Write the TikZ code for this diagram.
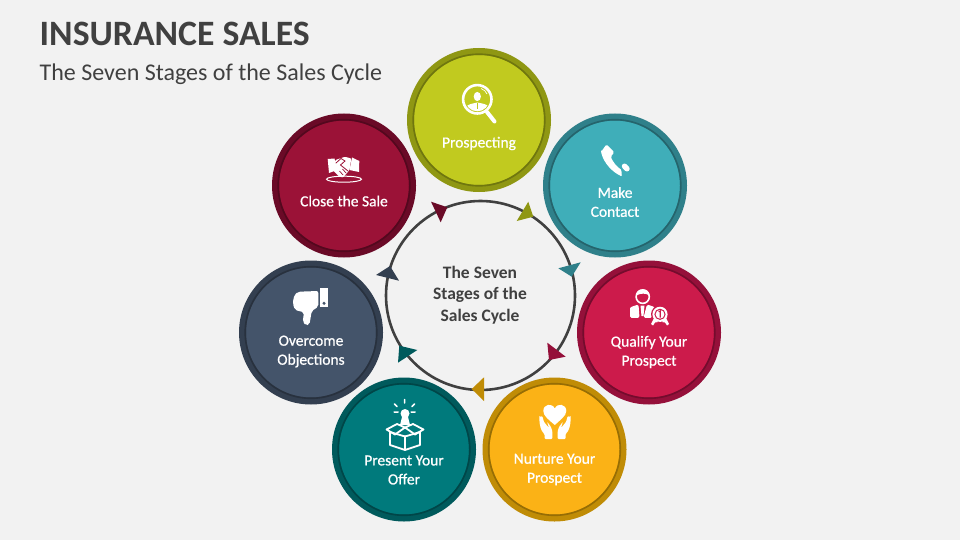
\documentclass[tikz,border=0pt]{standalone}
\usepackage{fontspec}
\setmainfont{Carlito}
\newfontfamily\semibold[FakeBold=0.7]{Carlito}
\definecolor{bgc}{HTML}{F2F2F2}
\definecolor{ink}{HTML}{404040}
\definecolor{oliveF}{HTML}{C1CA1F}\definecolor{oliveR}{HTML}{8F9713}
\definecolor{aquaF}{HTML}{3FAEB9}\definecolor{aquaR}{HTML}{2F808A}
\definecolor{crimF}{HTML}{CC1B4B}\definecolor{crimR}{HTML}{95103A}
\definecolor{goldF}{HTML}{FBB216}\definecolor{goldR}{HTML}{C08C06}
\definecolor{tealF}{HTML}{007A7C}\definecolor{tealR}{HTML}{005A5C}
\definecolor{navyF}{HTML}{44546A}\definecolor{navyR}{HTML}{333F50}
\definecolor{marF}{HTML}{9B1237}\definecolor{marR}{HTML}{6A0A27}
\tikzset{
  stage/.style 2 args={circle,inner sep=0pt,outer sep=0pt,minimum size=137pt,line width=7pt,fill=#1,draw=#2},
  stagetext/.style={text=white,align=center,font=\semibold\fontsize{15.5}{19}\selectfont,inner sep=0pt},
  tip/.style={fill=#1,draw=none},
  ico/.style={fill=white,draw=none},
  icoline/.style={draw=white,fill=none,line cap=round,line join=round}
}
\newcommand{\rimshade}[2]{\draw[#2!78!black,line width=1.6pt] (#1) circle (65.8pt);}
\begin{document}
\begin{tikzpicture}[x=1pt,y=-1pt]
\useasboundingbox (0,0) rectangle (960,540);
\fill[bgc] (0,0) rectangle (960,540);
\node[anchor=base west,inner sep=0pt,text=ink,font=\fontsize{35.7}{36}\selectfont\bfseries] (title) at (39.5,46) {INSURANCE SALES};
\node[anchor=base west,inner sep=0pt,text=ink,font=\fontsize{24}{24}\selectfont] (subtitle) at (39.5,81) {The Seven Stages of the Sales Cycle};

% ring
\node[circle,draw=ink,line width=2.6pt,minimum size=189pt,inner sep=0pt,outer sep=0pt] (ring) at (480.5,295.5) {};
\node[align=center,inner sep=0pt,text=ink,font=\fontsize{17.5}{21.5}\selectfont\bfseries] (ringtext) at (480,295) {The Seven\\Stages of the\\Sales Cycle};

% arrowheads on the ring
\fill[tip=marR] (431,201.7) -- (447.3,207.3) -- (440.7,222.3) -- cycle;
\fill[tip=oliveR] (528.3,201.7) -- (533.3,216.7) -- (516.7,221) -- cycle;
\fill[tip=aquaR] (580.7,262.3) -- (558.3,268.3) -- (571.7,276.7) -- cycle;
\fill[tip=crimR] (547.3,342.7) -- (565.7,356.7) -- (549,360) -- cycle;
\fill[tip=goldR] (484,377.3) -- (484,401) -- (471.7,389) -- cycle;
\fill[tip=tealR] (417.3,350) -- (399.3,345.7) -- (398,362.7) -- cycle;
\fill[tip=navyR] (376,275) -- (399,280.7) -- (390,266) -- cycle;

% stages
\node[stage={oliveF}{oliveR}] (s1) at (479,120) {};
\node[stage={aquaF}{aquaR}] (s2) at (615,185.5) {};
\node[stage={crimF}{crimR}] (s3) at (649,332.5) {};
\node[stage={goldF}{goldR}] (s4) at (554.5,449.5) {};
\node[stage={tealF}{tealR}] (s5) at (404,449.5) {};
\node[stage={navyF}{navyR}] (s6) at (311,332.5) {};
\node[stage={marF}{marR}] (s7) at (344,185.5) {};
\rimshade{s1}{oliveR}\rimshade{s2}{aquaR}\rimshade{s3}{crimR}\rimshade{s4}{goldR}\rimshade{s5}{tealR}\rimshade{s6}{navyR}\rimshade{s7}{marR}

\node[stagetext] (t1) at (479,143.5) {Prospecting};
\node[stagetext] (t2) at (615,202) {Make\\Contact};
\node[stagetext] (t3) at (649,352) {Qualify Your\\Prospect};
\node[stagetext] (t4) at (554.5,469.5) {Nurture Your\\Prospect};
\node[stagetext] (t5) at (404,470) {Present Your\\Offer};
\node[stagetext] (t6) at (311,351.5) {Overcome\\Objections};
\node[stagetext] (t7) at (344,201) {Close the Sale};

% --- magnifier
\draw[white,line width=2.6pt] (477.3,99.3) circle (14.2pt);
\draw[white,line width=4pt,line cap=round] (487,112) -- (494.5,121.5);
\begin{scope}
\clip (477.3,99.3) circle (12pt);
\fill[white] (466,116) -- (466,107) .. controls (468,104) and (473,103.5) .. (477.3,102.5) .. controls (482,103.5) and (487,104) .. (489,107) -- (489,116) -- cycle;
\end{scope}
\fill[white] (477.3,96.5) ellipse (3.6pt and 4.6pt);
\draw[oliveF,line width=.8pt] (477.3,103) -- (477.3,109);
\draw[white,line width=.7pt] (481,88.5) .. controls (484,89.5) and (486,91.5) .. (487,94);

% --- phone
\fill[ico,rounded corners=1.5pt] (601,152) -- (606.5,144.3) -- (614.3,152.3) -- (610.7,156.7) .. controls (613,162) and (617,167) .. (622,170.2) -- (621,173) -- (622.5,176.7) .. controls (612,172) and (604,163) .. (601,152) -- cycle;
\draw[white,line width=5.4pt,line cap=round] (624.5,166.2) -- (627,168.8);

% --- handshake
\draw[white,line width=1pt] (344,179.2) ellipse (17.5pt and 3pt);
\fill[ico] (327.7,159) -- (334.5,158.5) -- (337,170) -- (329,173) -- cycle;
\fill[ico] (359.3,161) -- (352,157.5) -- (349.5,170) -- (359,172) -- cycle;
\fill[ico,rounded corners=1pt] (335.5,160) -- (345,156.8) -- (351.3,158.5) -- (349.5,170) -- (343,177.5) -- (339,176.5) -- (332.5,170) -- cycle;
\draw[marF,line width=.8pt,line cap=round] (336,163) -- (341,158.5) -- (345,161) -- (340.5,165) -- (348,171);
\draw[marF,line width=.7pt] (342.5,169) -- (346,173) (339.5,171) -- (343,175);

% --- thumbs down
\fill[ico] (320,288) -- (328.3,288) -- (328.3,306.7) -- (320,306.7) -- cycle;
\fill[navyF] (324,303.3) circle (1.7pt);
\fill[ico,rounded corners=2pt] (298.3,291.7) -- (318.3,291) -- (318.3,306.7) -- (311.7,311) -- (309.5,324.5) -- (306,325.5) -- (302.7,321.7) -- (304,312.3) -- (295,310) -- (292.7,303.3) -- (294.3,295) -- cycle;

% --- person with medal
\draw[white,line width=1.6pt] (642.7,296.8) circle (6.6pt);
\fill[ico] (636,295.5) .. controls (636,287) and (649.5,287) .. (649.5,295.5) .. controls (646,293) and (641,293) .. (636,295.5) -- cycle;
\fill[ico,rounded corners=1.5pt] (630,317.8) -- (630,310) .. controls (630,307) and (634,305.8) .. (638.5,304.5) -- (639.5,317.8) -- cycle;
\fill[ico,rounded corners=1.5pt] (643.5,317.8) -- (647,304.5) .. controls (650,305.5) and (654,306.5) .. (655,309) -- (652,317.8) -- cycle;
\fill[ico] (640.5,305.5) -- (644.5,305.5) -- (643.5,316) -- (641.5,316) -- cycle;
\fill[crimF] (660,314.3) circle (9pt);
\fill[ico] (654,318) -- (658,322) -- (655,322.5) -- (653,325.5) -- (651,324) -- cycle (666,318) -- (662,322) -- (665,322.5) -- (667,325.5) -- (669,324) -- cycle;
\fill[ico] (660,314.3) circle (7.6pt);
\fill[crimF] (660,314.3) circle (5.6pt);
\fill[ico] (660,314.3) circle (4.4pt);
\draw[crimF,line width=1.1pt] (658.7,311.7) -- (660.2,310.9) -- (660.2,317.6);

% --- heart and hands
\fill[ico] (554.8,425) .. controls (549,420) and (543.3,416) .. (543.3,411) .. controls (543.3,404) and (552,402.5) .. (554.8,408.5) .. controls (557.5,402.5) and (566.3,404) .. (566.3,411) .. controls (566.3,416) and (560,420) .. (554.8,425) -- cycle;
\fill[ico,rounded corners=1pt] (539.3,417) -- (542.3,416) -- (544,422) -- (549,428) -- (547,421.5) -- (551,427) -- (552.3,431) -- (552.3,439) -- (544.5,439) -- (544.5,434) .. controls (541,431) and (539.3,425) .. (539.3,417) -- cycle;
\fill[ico,rounded corners=1pt] (570.7,417) -- (567.7,416) -- (566,422) -- (561,428) -- (563,421.5) -- (559,427) -- (557.7,431) -- (557.7,439) -- (565.5,439) -- (565.5,434) .. controls (569,431) and (570.7,425) .. (570.7,417) -- cycle;

% --- bulb and box
\fill[ico] (405,413.5) circle (4.5pt);
\fill[ico] (402,417) -- (408,417) -- (410,425) -- (400,425) -- cycle;
\draw[white,line width=1.5pt,line cap=round] (404.6,399.5) -- (404.6,403) (394.5,404) -- (397,406.5) (414.5,404) -- (412,406.5) (394,412) -- (398,412) (415,412) -- (411,412);
\draw[icoline,line width=1.8pt] (390,432) -- (390,445) -- (405,450) -- (420,445) -- (420,432);
\draw[icoline,line width=1.8pt] (405,436) -- (405,450);
\draw[icoline,line width=1.8pt] (386.5,429.5) -- (397,424) -- (405,427.5) -- (395,434.5) -- cycle;
\draw[icoline,line width=1.8pt] (423.5,429.5) -- (413,424) -- (405,427.5) -- (415,434.5) -- cycle;
\draw[icoline,line width=1.8pt] (390,432) -- (405,436.5) -- (420,432);
\end{tikzpicture}
\end{document}
